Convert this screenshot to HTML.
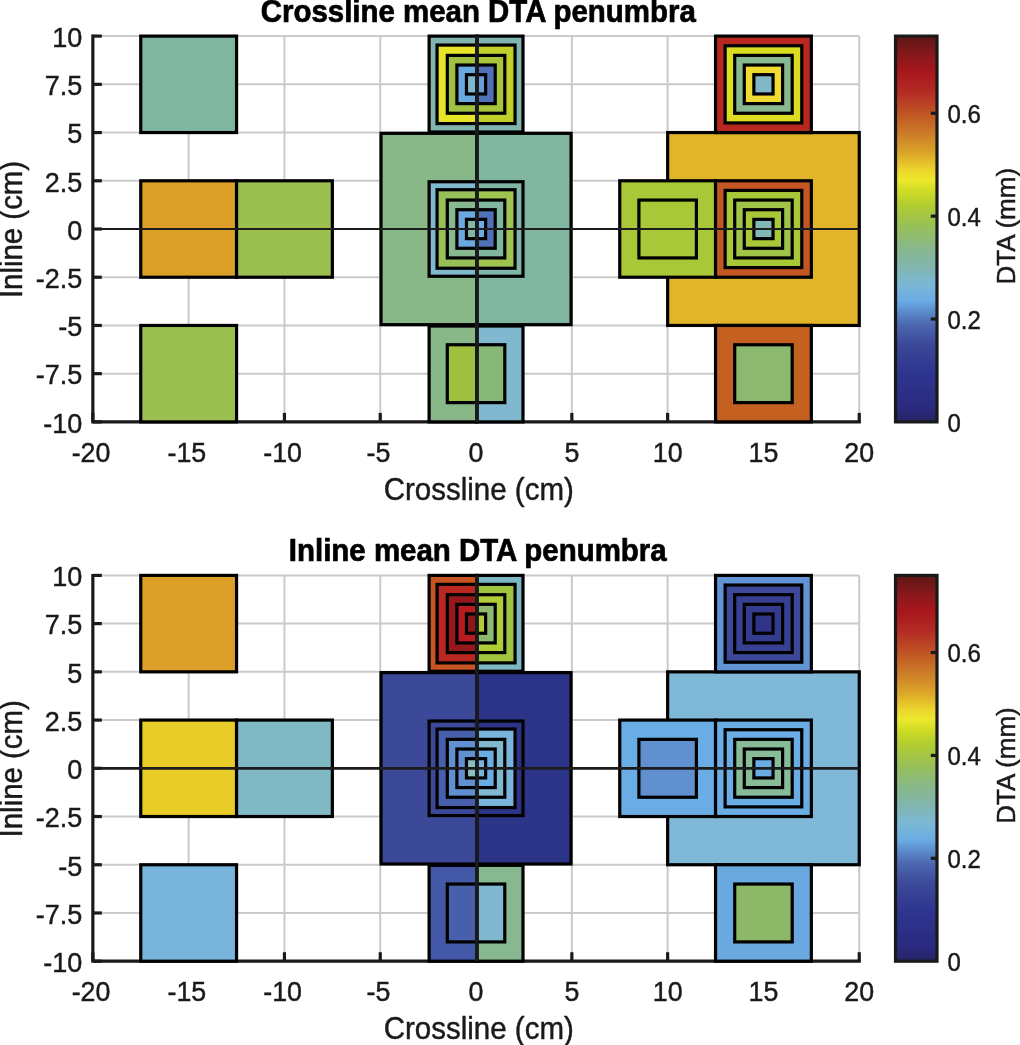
<!DOCTYPE html>
<html><head><meta charset="utf-8"><title>DTA penumbra</title>
<style>
html,body{margin:0;padding:0;background:#fff;}
svg{display:block;font-family:'Liberation Sans', sans-serif;fill:#1a1a1a;}
</style></head>
<body>
<svg width="1020" height="1045" viewBox="0 0 1020 1045">
<defs><linearGradient id="cm" x1="0" y1="1" x2="0" y2="0">
<stop offset="0.00%" stop-color="#262466"/>
<stop offset="4.00%" stop-color="#2a2a80"/>
<stop offset="13.33%" stop-color="#2e3690"/>
<stop offset="20.00%" stop-color="#3c4898"/>
<stop offset="25.33%" stop-color="#4c68b0"/>
<stop offset="28.67%" stop-color="#5c8ccc"/>
<stop offset="31.33%" stop-color="#6aace4"/>
<stop offset="36.00%" stop-color="#7cb8d4"/>
<stop offset="40.00%" stop-color="#80b5b0"/>
<stop offset="45.33%" stop-color="#88b888"/>
<stop offset="50.67%" stop-color="#98c058"/>
<stop offset="56.00%" stop-color="#b0cc30"/>
<stop offset="60.00%" stop-color="#d0dc24"/>
<stop offset="62.67%" stop-color="#ece82c"/>
<stop offset="65.33%" stop-color="#ecd42c"/>
<stop offset="69.33%" stop-color="#dca828"/>
<stop offset="74.67%" stop-color="#cc7c28"/>
<stop offset="80.00%" stop-color="#c05424"/>
<stop offset="85.33%" stop-color="#b42c24"/>
<stop offset="90.67%" stop-color="#a8161c"/>
<stop offset="94.67%" stop-color="#8c181c"/>
<stop offset="100.00%" stop-color="#5c1614"/>
</linearGradient></defs>
<rect x="0" y="0" width="1020" height="1045" fill="#fff" stroke="none"/>
<g>
<line x1="188.65" y1="36.10" x2="188.65" y2="421.90" stroke="#cbcaca" stroke-width="2"/>
<line x1="284.45" y1="36.10" x2="284.45" y2="421.90" stroke="#cbcaca" stroke-width="2"/>
<line x1="380.25" y1="36.10" x2="380.25" y2="421.90" stroke="#cbcaca" stroke-width="2"/>
<line x1="476.05" y1="36.10" x2="476.05" y2="421.90" stroke="#cbcaca" stroke-width="2"/>
<line x1="571.85" y1="36.10" x2="571.85" y2="421.90" stroke="#cbcaca" stroke-width="2"/>
<line x1="667.65" y1="36.10" x2="667.65" y2="421.90" stroke="#cbcaca" stroke-width="2"/>
<line x1="763.45" y1="36.10" x2="763.45" y2="421.90" stroke="#cbcaca" stroke-width="2"/>
<line x1="859.25" y1="36.10" x2="859.25" y2="421.90" stroke="#cbcaca" stroke-width="2"/>
<line x1="92.85" y1="373.67" x2="859.25" y2="373.67" stroke="#cbcaca" stroke-width="2"/>
<line x1="92.85" y1="325.45" x2="859.25" y2="325.45" stroke="#cbcaca" stroke-width="2"/>
<line x1="92.85" y1="277.23" x2="859.25" y2="277.23" stroke="#cbcaca" stroke-width="2"/>
<line x1="92.85" y1="229.00" x2="859.25" y2="229.00" stroke="#cbcaca" stroke-width="2"/>
<line x1="92.85" y1="180.78" x2="859.25" y2="180.78" stroke="#cbcaca" stroke-width="2"/>
<line x1="92.85" y1="132.55" x2="859.25" y2="132.55" stroke="#cbcaca" stroke-width="2"/>
<line x1="92.85" y1="84.33" x2="859.25" y2="84.33" stroke="#cbcaca" stroke-width="2"/>
<line x1="92.85" y1="36.10" x2="859.25" y2="36.10" stroke="#cbcaca" stroke-width="2"/>
<path d="M92.85 34.60 V421.90 H860.85" fill="none" stroke="#1a1a1a" stroke-width="3.2"/>
<line x1="92.85" y1="421.90" x2="92.85" y2="412.90" stroke="#1a1a1a" stroke-width="3.2"/>
<line x1="188.65" y1="421.90" x2="188.65" y2="412.90" stroke="#1a1a1a" stroke-width="3.2"/>
<line x1="284.45" y1="421.90" x2="284.45" y2="412.90" stroke="#1a1a1a" stroke-width="3.2"/>
<line x1="380.25" y1="421.90" x2="380.25" y2="412.90" stroke="#1a1a1a" stroke-width="3.2"/>
<line x1="476.05" y1="421.90" x2="476.05" y2="412.90" stroke="#1a1a1a" stroke-width="3.2"/>
<line x1="571.85" y1="421.90" x2="571.85" y2="412.90" stroke="#1a1a1a" stroke-width="3.2"/>
<line x1="667.65" y1="421.90" x2="667.65" y2="412.90" stroke="#1a1a1a" stroke-width="3.2"/>
<line x1="763.45" y1="421.90" x2="763.45" y2="412.90" stroke="#1a1a1a" stroke-width="3.2"/>
<line x1="859.25" y1="421.90" x2="859.25" y2="412.90" stroke="#1a1a1a" stroke-width="3.2"/>
<line x1="92.85" y1="421.90" x2="101.85" y2="421.90" stroke="#1a1a1a" stroke-width="3.2"/>
<line x1="92.85" y1="373.67" x2="101.85" y2="373.67" stroke="#1a1a1a" stroke-width="3.2"/>
<line x1="92.85" y1="325.45" x2="101.85" y2="325.45" stroke="#1a1a1a" stroke-width="3.2"/>
<line x1="92.85" y1="277.23" x2="101.85" y2="277.23" stroke="#1a1a1a" stroke-width="3.2"/>
<line x1="92.85" y1="229.00" x2="101.85" y2="229.00" stroke="#1a1a1a" stroke-width="3.2"/>
<line x1="92.85" y1="180.78" x2="101.85" y2="180.78" stroke="#1a1a1a" stroke-width="3.2"/>
<line x1="92.85" y1="132.55" x2="101.85" y2="132.55" stroke="#1a1a1a" stroke-width="3.2"/>
<line x1="92.85" y1="84.33" x2="101.85" y2="84.33" stroke="#1a1a1a" stroke-width="3.2"/>
<line x1="92.85" y1="36.10" x2="101.85" y2="36.10" stroke="#1a1a1a" stroke-width="3.2"/>
<rect x="140.75" y="36.10" width="95.80" height="96.45" fill="#80b5a0" stroke="#000" stroke-width="3.2"/>
<rect x="140.75" y="180.78" width="95.80" height="96.45" fill="#dca028" stroke="#000" stroke-width="3.2"/>
<rect x="236.55" y="180.78" width="95.80" height="96.45" fill="#9cc050" stroke="#000" stroke-width="3.2"/>
<rect x="140.75" y="325.45" width="95.80" height="96.45" fill="#9cc050" stroke="#000" stroke-width="3.2"/>
<rect x="381.02" y="133.32" width="95.88" height="191.36" fill="#88b888" stroke="#000" stroke-width="3.2"/>
<rect x="476.90" y="133.32" width="94.18" height="191.36" fill="#80b5a0" stroke="#000" stroke-width="3.2"/>
<rect x="429.11" y="181.74" width="47.79" height="94.52" fill="#80b8cc" stroke="#000" stroke-width="3.2"/>
<rect x="476.90" y="181.74" width="46.09" height="94.52" fill="#80b5a8" stroke="#000" stroke-width="3.2"/>
<rect x="437.06" y="189.74" width="39.84" height="78.51" fill="#98c058" stroke="#000" stroke-width="3.2"/>
<rect x="476.90" y="189.74" width="38.14" height="78.51" fill="#a0c450" stroke="#000" stroke-width="3.2"/>
<rect x="447.31" y="200.06" width="29.59" height="57.87" fill="#88b890" stroke="#000" stroke-width="3.2"/>
<rect x="476.90" y="200.06" width="27.89" height="57.87" fill="#80b5a0" stroke="#000" stroke-width="3.2"/>
<rect x="456.89" y="209.71" width="20.01" height="38.58" fill="#6aa8e0" stroke="#000" stroke-width="3.2"/>
<rect x="476.90" y="209.71" width="18.31" height="38.58" fill="#5070b8" stroke="#000" stroke-width="3.2"/>
<rect x="466.47" y="219.35" width="10.43" height="19.29" fill="#80b8a8" stroke="#000" stroke-width="3.2"/>
<rect x="476.90" y="219.35" width="8.73" height="19.29" fill="#6aace4" stroke="#000" stroke-width="3.2"/>
<rect x="429.11" y="36.10" width="47.79" height="95.87" fill="#80b5b0" stroke="#000" stroke-width="3.2"/>
<rect x="476.90" y="36.10" width="46.09" height="95.87" fill="#80b5b0" stroke="#000" stroke-width="3.2"/>
<rect x="437.06" y="45.07" width="39.84" height="78.51" fill="#e8e428" stroke="#000" stroke-width="3.2"/>
<rect x="476.90" y="45.07" width="38.14" height="78.51" fill="#c0d028" stroke="#000" stroke-width="3.2"/>
<rect x="447.31" y="55.39" width="29.59" height="57.87" fill="#a0c040" stroke="#000" stroke-width="3.2"/>
<rect x="476.90" y="55.39" width="27.89" height="57.87" fill="#a8c438" stroke="#000" stroke-width="3.2"/>
<rect x="456.89" y="65.03" width="20.01" height="38.58" fill="#6aa8e0" stroke="#000" stroke-width="3.2"/>
<rect x="476.90" y="65.03" width="18.31" height="38.58" fill="#5070b8" stroke="#000" stroke-width="3.2"/>
<rect x="466.47" y="74.68" width="10.43" height="19.29" fill="#80b8d0" stroke="#000" stroke-width="3.2"/>
<rect x="476.90" y="74.68" width="8.73" height="19.29" fill="#6a9cd8" stroke="#000" stroke-width="3.2"/>
<rect x="429.11" y="326.03" width="47.79" height="95.87" fill="#88b888" stroke="#000" stroke-width="3.2"/>
<rect x="476.90" y="326.03" width="46.09" height="95.87" fill="#80b8d0" stroke="#000" stroke-width="3.2"/>
<rect x="447.31" y="344.74" width="29.59" height="57.87" fill="#a0c040" stroke="#000" stroke-width="3.2"/>
<rect x="476.90" y="344.74" width="27.89" height="57.87" fill="#88b878" stroke="#000" stroke-width="3.2"/>
<rect x="667.65" y="132.55" width="191.60" height="192.90" fill="#e2b42a" stroke="#000" stroke-width="3.2"/>
<rect x="715.55" y="36.10" width="95.80" height="96.45" fill="#b82820" stroke="#000" stroke-width="3.2"/>
<rect x="725.13" y="45.75" width="76.64" height="77.16" fill="#dcdc20" stroke="#000" stroke-width="3.2"/>
<rect x="734.71" y="55.39" width="57.48" height="57.87" fill="#88b890" stroke="#000" stroke-width="3.2"/>
<rect x="744.29" y="65.03" width="38.32" height="38.58" fill="#f0dc30" stroke="#000" stroke-width="3.2"/>
<rect x="753.87" y="74.68" width="19.16" height="19.29" fill="#80b8c8" stroke="#000" stroke-width="3.2"/>
<rect x="619.75" y="180.78" width="95.80" height="96.45" fill="#a8c838" stroke="#000" stroke-width="3.2"/>
<rect x="638.91" y="200.06" width="57.48" height="57.87" fill="#a8c838" stroke="#000" stroke-width="3.2"/>
<rect x="715.55" y="180.78" width="95.80" height="96.45" fill="#c45624" stroke="#000" stroke-width="3.2"/>
<rect x="725.13" y="190.42" width="76.64" height="77.16" fill="#a8c838" stroke="#000" stroke-width="3.2"/>
<rect x="734.71" y="200.06" width="57.48" height="57.87" fill="#a0c448" stroke="#000" stroke-width="3.2"/>
<rect x="744.29" y="209.71" width="38.32" height="38.58" fill="#a8c838" stroke="#000" stroke-width="3.2"/>
<rect x="753.87" y="219.35" width="19.16" height="19.29" fill="#80b8b8" stroke="#000" stroke-width="3.2"/>
<rect x="715.55" y="325.45" width="95.80" height="96.45" fill="#c46020" stroke="#000" stroke-width="3.2"/>
<rect x="734.71" y="344.74" width="57.48" height="57.87" fill="#8cb870" stroke="#000" stroke-width="3.2"/>
<line x1="476.90" y1="36.10" x2="476.90" y2="421.90" stroke="#1a1a1a" stroke-width="3.8"/>
<line x1="92.85" y1="229.00" x2="859.25" y2="229.00" stroke="#1c1c1c" stroke-width="2.0"/>
<text transform="translate(91.05 462.00) scale(0.965 1)" text-anchor="middle" font-size="27.77" stroke="#1a1a1a" stroke-width="0.45">-20</text>
<text transform="translate(186.85 462.00) scale(0.965 1)" text-anchor="middle" font-size="27.77" stroke="#1a1a1a" stroke-width="0.45">-15</text>
<text transform="translate(282.65 462.00) scale(0.965 1)" text-anchor="middle" font-size="27.77" stroke="#1a1a1a" stroke-width="0.45">-10</text>
<text transform="translate(378.45 462.00) scale(0.965 1)" text-anchor="middle" font-size="27.77" stroke="#1a1a1a" stroke-width="0.45">-5</text>
<text transform="translate(476.05 462.00) scale(0.965 1)" text-anchor="middle" font-size="27.77" stroke="#1a1a1a" stroke-width="0.45">0</text>
<text transform="translate(571.85 462.00) scale(0.965 1)" text-anchor="middle" font-size="27.77" stroke="#1a1a1a" stroke-width="0.45">5</text>
<text transform="translate(667.65 462.00) scale(0.965 1)" text-anchor="middle" font-size="27.77" stroke="#1a1a1a" stroke-width="0.45">10</text>
<text transform="translate(763.45 462.00) scale(0.965 1)" text-anchor="middle" font-size="27.77" stroke="#1a1a1a" stroke-width="0.45">15</text>
<text transform="translate(859.25 462.00) scale(0.965 1)" text-anchor="middle" font-size="27.77" stroke="#1a1a1a" stroke-width="0.45">20</text>
<text transform="translate(82.35 432.70) scale(0.965 1)" text-anchor="end" font-size="27.98" stroke="#1a1a1a" stroke-width="0.45">-10</text>
<text transform="translate(82.35 384.47) scale(0.965 1)" text-anchor="end" font-size="27.98" stroke="#1a1a1a" stroke-width="0.45">-7.5</text>
<text transform="translate(82.35 336.25) scale(0.965 1)" text-anchor="end" font-size="27.98" stroke="#1a1a1a" stroke-width="0.45">-5</text>
<text transform="translate(82.35 288.03) scale(0.965 1)" text-anchor="end" font-size="27.98" stroke="#1a1a1a" stroke-width="0.45">-2.5</text>
<text transform="translate(82.35 239.80) scale(0.965 1)" text-anchor="end" font-size="27.98" stroke="#1a1a1a" stroke-width="0.45">0</text>
<text transform="translate(82.35 191.58) scale(0.965 1)" text-anchor="end" font-size="27.98" stroke="#1a1a1a" stroke-width="0.45">2.5</text>
<text transform="translate(82.35 143.35) scale(0.965 1)" text-anchor="end" font-size="27.98" stroke="#1a1a1a" stroke-width="0.45">5</text>
<text transform="translate(82.35 95.13) scale(0.965 1)" text-anchor="end" font-size="27.98" stroke="#1a1a1a" stroke-width="0.45">7.5</text>
<text transform="translate(82.35 46.90) scale(0.965 1)" text-anchor="end" font-size="27.98" stroke="#1a1a1a" stroke-width="0.45">10</text>
<text transform="translate(478.75 499.50) scale(0.94 1)" text-anchor="middle" font-size="31.38" stroke="#1a1a1a" stroke-width="0.45">Crossline (cm)</text>
<text transform="translate(22.00 229.50) rotate(-90) scale(0.94 1)" text-anchor="middle" font-size="31.28" stroke="#1a1a1a" stroke-width="0.45">Inline (cm)</text>
<text transform="translate(478.25 21.50) scale(0.94 1)" text-anchor="middle" font-size="31.33" font-weight="bold" fill="#000" stroke="#000" stroke-width="0.7">Crossline mean DTA penumbra</text>
<rect x="895.5" y="36.10" width="41.5" height="385.80" fill="url(#cm)" stroke="#1a1a1a" stroke-width="3.2"/>
<line x1="937.00" y1="319.02" x2="930.80" y2="319.02" stroke="#1a1a1a" stroke-width="3.2"/>
<line x1="937.00" y1="216.14" x2="930.80" y2="216.14" stroke="#1a1a1a" stroke-width="3.2"/>
<line x1="937.00" y1="113.26" x2="930.80" y2="113.26" stroke="#1a1a1a" stroke-width="3.2"/>
<text transform="translate(947.50 431.70) scale(0.915 1)" text-anchor="start" font-size="26.23" stroke="#1a1a1a" stroke-width="0.45">0</text>
<text transform="translate(947.50 328.82) scale(0.915 1)" text-anchor="start" font-size="26.23" stroke="#1a1a1a" stroke-width="0.45">0.2</text>
<text transform="translate(947.50 225.94) scale(0.915 1)" text-anchor="start" font-size="26.23" stroke="#1a1a1a" stroke-width="0.45">0.4</text>
<text transform="translate(947.50 123.06) scale(0.915 1)" text-anchor="start" font-size="26.23" stroke="#1a1a1a" stroke-width="0.45">0.6</text>
<text transform="translate(1014.60 226.20) rotate(-90) scale(1.0 1)" text-anchor="middle" font-size="26.00" stroke="#1a1a1a" stroke-width="0.45">DTA (mm)</text>
</g>
<g>
<line x1="188.65" y1="575.40" x2="188.65" y2="961.20" stroke="#cbcaca" stroke-width="2"/>
<line x1="284.45" y1="575.40" x2="284.45" y2="961.20" stroke="#cbcaca" stroke-width="2"/>
<line x1="380.25" y1="575.40" x2="380.25" y2="961.20" stroke="#cbcaca" stroke-width="2"/>
<line x1="476.05" y1="575.40" x2="476.05" y2="961.20" stroke="#cbcaca" stroke-width="2"/>
<line x1="571.85" y1="575.40" x2="571.85" y2="961.20" stroke="#cbcaca" stroke-width="2"/>
<line x1="667.65" y1="575.40" x2="667.65" y2="961.20" stroke="#cbcaca" stroke-width="2"/>
<line x1="763.45" y1="575.40" x2="763.45" y2="961.20" stroke="#cbcaca" stroke-width="2"/>
<line x1="859.25" y1="575.40" x2="859.25" y2="961.20" stroke="#cbcaca" stroke-width="2"/>
<line x1="92.85" y1="912.97" x2="859.25" y2="912.97" stroke="#cbcaca" stroke-width="2"/>
<line x1="92.85" y1="864.75" x2="859.25" y2="864.75" stroke="#cbcaca" stroke-width="2"/>
<line x1="92.85" y1="816.52" x2="859.25" y2="816.52" stroke="#cbcaca" stroke-width="2"/>
<line x1="92.85" y1="768.30" x2="859.25" y2="768.30" stroke="#cbcaca" stroke-width="2"/>
<line x1="92.85" y1="720.07" x2="859.25" y2="720.07" stroke="#cbcaca" stroke-width="2"/>
<line x1="92.85" y1="671.85" x2="859.25" y2="671.85" stroke="#cbcaca" stroke-width="2"/>
<line x1="92.85" y1="623.62" x2="859.25" y2="623.62" stroke="#cbcaca" stroke-width="2"/>
<line x1="92.85" y1="575.40" x2="859.25" y2="575.40" stroke="#cbcaca" stroke-width="2"/>
<path d="M92.85 573.90 V961.20 H860.85" fill="none" stroke="#1a1a1a" stroke-width="3.2"/>
<line x1="92.85" y1="961.20" x2="92.85" y2="952.20" stroke="#1a1a1a" stroke-width="3.2"/>
<line x1="188.65" y1="961.20" x2="188.65" y2="952.20" stroke="#1a1a1a" stroke-width="3.2"/>
<line x1="284.45" y1="961.20" x2="284.45" y2="952.20" stroke="#1a1a1a" stroke-width="3.2"/>
<line x1="380.25" y1="961.20" x2="380.25" y2="952.20" stroke="#1a1a1a" stroke-width="3.2"/>
<line x1="476.05" y1="961.20" x2="476.05" y2="952.20" stroke="#1a1a1a" stroke-width="3.2"/>
<line x1="571.85" y1="961.20" x2="571.85" y2="952.20" stroke="#1a1a1a" stroke-width="3.2"/>
<line x1="667.65" y1="961.20" x2="667.65" y2="952.20" stroke="#1a1a1a" stroke-width="3.2"/>
<line x1="763.45" y1="961.20" x2="763.45" y2="952.20" stroke="#1a1a1a" stroke-width="3.2"/>
<line x1="859.25" y1="961.20" x2="859.25" y2="952.20" stroke="#1a1a1a" stroke-width="3.2"/>
<line x1="92.85" y1="961.20" x2="101.85" y2="961.20" stroke="#1a1a1a" stroke-width="3.2"/>
<line x1="92.85" y1="912.97" x2="101.85" y2="912.97" stroke="#1a1a1a" stroke-width="3.2"/>
<line x1="92.85" y1="864.75" x2="101.85" y2="864.75" stroke="#1a1a1a" stroke-width="3.2"/>
<line x1="92.85" y1="816.52" x2="101.85" y2="816.52" stroke="#1a1a1a" stroke-width="3.2"/>
<line x1="92.85" y1="768.30" x2="101.85" y2="768.30" stroke="#1a1a1a" stroke-width="3.2"/>
<line x1="92.85" y1="720.07" x2="101.85" y2="720.07" stroke="#1a1a1a" stroke-width="3.2"/>
<line x1="92.85" y1="671.85" x2="101.85" y2="671.85" stroke="#1a1a1a" stroke-width="3.2"/>
<line x1="92.85" y1="623.62" x2="101.85" y2="623.62" stroke="#1a1a1a" stroke-width="3.2"/>
<line x1="92.85" y1="575.40" x2="101.85" y2="575.40" stroke="#1a1a1a" stroke-width="3.2"/>
<rect x="140.75" y="575.40" width="95.80" height="96.45" fill="#dca028" stroke="#000" stroke-width="3.2"/>
<rect x="140.75" y="720.07" width="95.80" height="96.45" fill="#e8cc28" stroke="#000" stroke-width="3.2"/>
<rect x="236.55" y="720.07" width="95.80" height="96.45" fill="#80b8c4" stroke="#000" stroke-width="3.2"/>
<rect x="140.75" y="864.75" width="95.80" height="96.45" fill="#78b4dc" stroke="#000" stroke-width="3.2"/>
<rect x="381.02" y="672.62" width="95.88" height="191.36" fill="#3c4898" stroke="#000" stroke-width="3.2"/>
<rect x="476.90" y="672.62" width="94.18" height="191.36" fill="#2c3488" stroke="#000" stroke-width="3.2"/>
<rect x="429.11" y="721.04" width="47.79" height="94.52" fill="#3c4898" stroke="#000" stroke-width="3.2"/>
<rect x="476.90" y="721.04" width="46.09" height="94.52" fill="#2c3488" stroke="#000" stroke-width="3.2"/>
<rect x="437.06" y="729.04" width="39.84" height="78.51" fill="#4860ac" stroke="#000" stroke-width="3.2"/>
<rect x="476.90" y="729.04" width="38.14" height="78.51" fill="#78b4dc" stroke="#000" stroke-width="3.2"/>
<rect x="447.31" y="739.37" width="29.59" height="57.87" fill="#6090d0" stroke="#000" stroke-width="3.2"/>
<rect x="476.90" y="739.37" width="27.89" height="57.87" fill="#80b8d0" stroke="#000" stroke-width="3.2"/>
<rect x="456.89" y="749.01" width="20.01" height="38.58" fill="#6090d0" stroke="#000" stroke-width="3.2"/>
<rect x="476.90" y="749.01" width="18.31" height="38.58" fill="#6aace4" stroke="#000" stroke-width="3.2"/>
<rect x="466.47" y="758.65" width="10.43" height="19.29" fill="#88c0c0" stroke="#000" stroke-width="3.2"/>
<rect x="476.90" y="758.65" width="8.73" height="19.29" fill="#78b4dc" stroke="#000" stroke-width="3.2"/>
<rect x="429.11" y="575.40" width="47.79" height="95.87" fill="#c85424" stroke="#000" stroke-width="3.2"/>
<rect x="476.90" y="575.40" width="46.09" height="95.87" fill="#7cb8c4" stroke="#000" stroke-width="3.2"/>
<rect x="437.06" y="584.37" width="39.84" height="78.51" fill="#b82820" stroke="#000" stroke-width="3.2"/>
<rect x="476.90" y="584.37" width="38.14" height="78.51" fill="#a0c440" stroke="#000" stroke-width="3.2"/>
<rect x="447.31" y="594.69" width="29.59" height="57.87" fill="#94181c" stroke="#000" stroke-width="3.2"/>
<rect x="476.90" y="594.69" width="27.89" height="57.87" fill="#b0cc38" stroke="#000" stroke-width="3.2"/>
<rect x="456.89" y="604.33" width="20.01" height="38.58" fill="#b81c20" stroke="#000" stroke-width="3.2"/>
<rect x="476.90" y="604.33" width="18.31" height="38.58" fill="#8cb870" stroke="#000" stroke-width="3.2"/>
<rect x="466.47" y="613.98" width="10.43" height="19.29" fill="#8c181c" stroke="#000" stroke-width="3.2"/>
<rect x="476.90" y="613.98" width="8.73" height="19.29" fill="#b0cc38" stroke="#000" stroke-width="3.2"/>
<rect x="429.11" y="865.33" width="47.79" height="95.87" fill="#4458a8" stroke="#000" stroke-width="3.2"/>
<rect x="476.90" y="865.33" width="46.09" height="95.87" fill="#88b890" stroke="#000" stroke-width="3.2"/>
<rect x="447.31" y="884.04" width="29.59" height="57.87" fill="#4860ac" stroke="#000" stroke-width="3.2"/>
<rect x="476.90" y="884.04" width="27.89" height="57.87" fill="#80b8d0" stroke="#000" stroke-width="3.2"/>
<rect x="667.65" y="671.85" width="191.60" height="192.90" fill="#80b8d8" stroke="#000" stroke-width="3.2"/>
<rect x="715.55" y="575.40" width="95.80" height="96.45" fill="#6094d4" stroke="#000" stroke-width="3.2"/>
<rect x="725.13" y="585.04" width="76.64" height="77.16" fill="#3c4898" stroke="#000" stroke-width="3.2"/>
<rect x="734.71" y="594.69" width="57.48" height="57.87" fill="#384094" stroke="#000" stroke-width="3.2"/>
<rect x="744.29" y="604.33" width="38.32" height="38.58" fill="#343c90" stroke="#000" stroke-width="3.2"/>
<rect x="753.87" y="613.98" width="19.16" height="19.29" fill="#303488" stroke="#000" stroke-width="3.2"/>
<rect x="619.75" y="720.07" width="95.80" height="96.45" fill="#6aace4" stroke="#000" stroke-width="3.2"/>
<rect x="638.91" y="739.37" width="57.48" height="57.87" fill="#6090d0" stroke="#000" stroke-width="3.2"/>
<rect x="715.55" y="720.07" width="95.80" height="96.45" fill="#6aace4" stroke="#000" stroke-width="3.2"/>
<rect x="725.13" y="729.72" width="76.64" height="77.16" fill="#6aace4" stroke="#000" stroke-width="3.2"/>
<rect x="734.71" y="739.37" width="57.48" height="57.87" fill="#88bc98" stroke="#000" stroke-width="3.2"/>
<rect x="744.29" y="749.01" width="38.32" height="38.58" fill="#88bc98" stroke="#000" stroke-width="3.2"/>
<rect x="753.87" y="758.65" width="19.16" height="19.29" fill="#6aace4" stroke="#000" stroke-width="3.2"/>
<rect x="715.55" y="864.75" width="95.80" height="96.45" fill="#6aa8e0" stroke="#000" stroke-width="3.2"/>
<rect x="734.71" y="884.04" width="57.48" height="57.87" fill="#8cb868" stroke="#000" stroke-width="3.2"/>
<line x1="476.90" y1="575.40" x2="476.90" y2="961.20" stroke="#1a1a1a" stroke-width="3.8"/>
<line x1="92.85" y1="768.30" x2="859.25" y2="768.30" stroke="#1c1c1c" stroke-width="2.7"/>
<text transform="translate(91.05 1001.30) scale(0.965 1)" text-anchor="middle" font-size="27.77" stroke="#1a1a1a" stroke-width="0.45">-20</text>
<text transform="translate(186.85 1001.30) scale(0.965 1)" text-anchor="middle" font-size="27.77" stroke="#1a1a1a" stroke-width="0.45">-15</text>
<text transform="translate(282.65 1001.30) scale(0.965 1)" text-anchor="middle" font-size="27.77" stroke="#1a1a1a" stroke-width="0.45">-10</text>
<text transform="translate(378.45 1001.30) scale(0.965 1)" text-anchor="middle" font-size="27.77" stroke="#1a1a1a" stroke-width="0.45">-5</text>
<text transform="translate(476.05 1001.30) scale(0.965 1)" text-anchor="middle" font-size="27.77" stroke="#1a1a1a" stroke-width="0.45">0</text>
<text transform="translate(571.85 1001.30) scale(0.965 1)" text-anchor="middle" font-size="27.77" stroke="#1a1a1a" stroke-width="0.45">5</text>
<text transform="translate(667.65 1001.30) scale(0.965 1)" text-anchor="middle" font-size="27.77" stroke="#1a1a1a" stroke-width="0.45">10</text>
<text transform="translate(763.45 1001.30) scale(0.965 1)" text-anchor="middle" font-size="27.77" stroke="#1a1a1a" stroke-width="0.45">15</text>
<text transform="translate(859.25 1001.30) scale(0.965 1)" text-anchor="middle" font-size="27.77" stroke="#1a1a1a" stroke-width="0.45">20</text>
<text transform="translate(82.35 972.00) scale(0.965 1)" text-anchor="end" font-size="27.98" stroke="#1a1a1a" stroke-width="0.45">-10</text>
<text transform="translate(82.35 923.77) scale(0.965 1)" text-anchor="end" font-size="27.98" stroke="#1a1a1a" stroke-width="0.45">-7.5</text>
<text transform="translate(82.35 875.55) scale(0.965 1)" text-anchor="end" font-size="27.98" stroke="#1a1a1a" stroke-width="0.45">-5</text>
<text transform="translate(82.35 827.32) scale(0.965 1)" text-anchor="end" font-size="27.98" stroke="#1a1a1a" stroke-width="0.45">-2.5</text>
<text transform="translate(82.35 779.10) scale(0.965 1)" text-anchor="end" font-size="27.98" stroke="#1a1a1a" stroke-width="0.45">0</text>
<text transform="translate(82.35 730.87) scale(0.965 1)" text-anchor="end" font-size="27.98" stroke="#1a1a1a" stroke-width="0.45">2.5</text>
<text transform="translate(82.35 682.65) scale(0.965 1)" text-anchor="end" font-size="27.98" stroke="#1a1a1a" stroke-width="0.45">5</text>
<text transform="translate(82.35 634.42) scale(0.965 1)" text-anchor="end" font-size="27.98" stroke="#1a1a1a" stroke-width="0.45">7.5</text>
<text transform="translate(82.35 586.20) scale(0.965 1)" text-anchor="end" font-size="27.98" stroke="#1a1a1a" stroke-width="0.45">10</text>
<text transform="translate(478.75 1038.80) scale(0.94 1)" text-anchor="middle" font-size="31.38" stroke="#1a1a1a" stroke-width="0.45">Crossline (cm)</text>
<text transform="translate(22.00 768.80) rotate(-90) scale(0.94 1)" text-anchor="middle" font-size="31.28" stroke="#1a1a1a" stroke-width="0.45">Inline (cm)</text>
<text transform="translate(477.75 560.80) scale(0.94 1)" text-anchor="middle" font-size="31.33" font-weight="bold" fill="#000" stroke="#000" stroke-width="0.7">Inline mean DTA penumbra</text>
<rect x="895.5" y="575.40" width="41.5" height="385.80" fill="url(#cm)" stroke="#1a1a1a" stroke-width="3.2"/>
<line x1="937.00" y1="858.32" x2="930.80" y2="858.32" stroke="#1a1a1a" stroke-width="3.2"/>
<line x1="937.00" y1="755.44" x2="930.80" y2="755.44" stroke="#1a1a1a" stroke-width="3.2"/>
<line x1="937.00" y1="652.56" x2="930.80" y2="652.56" stroke="#1a1a1a" stroke-width="3.2"/>
<text transform="translate(947.50 971.00) scale(0.915 1)" text-anchor="start" font-size="26.23" stroke="#1a1a1a" stroke-width="0.45">0</text>
<text transform="translate(947.50 868.12) scale(0.915 1)" text-anchor="start" font-size="26.23" stroke="#1a1a1a" stroke-width="0.45">0.2</text>
<text transform="translate(947.50 765.24) scale(0.915 1)" text-anchor="start" font-size="26.23" stroke="#1a1a1a" stroke-width="0.45">0.4</text>
<text transform="translate(947.50 662.36) scale(0.915 1)" text-anchor="start" font-size="26.23" stroke="#1a1a1a" stroke-width="0.45">0.6</text>
<text transform="translate(1014.60 765.50) rotate(-90) scale(1.0 1)" text-anchor="middle" font-size="26.00" stroke="#1a1a1a" stroke-width="0.45">DTA (mm)</text>
</g>
</svg>
</body></html>
